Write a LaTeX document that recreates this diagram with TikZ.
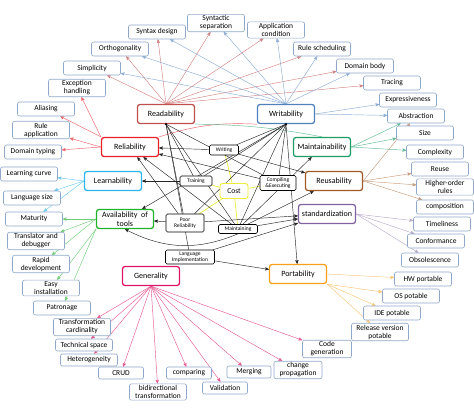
\documentclass[tikz,border=0pt]{standalone}
\usepackage{fontspec}
\setmainfont{Carlito}
\usetikzlibrary{arrows,backgrounds}

\definecolor{leafc}{HTML}{8FA8C9}
\definecolor{readc}{HTML}{C0504D}
\definecolor{writc}{HTML}{4F81BD}
\definecolor{relc}{HTML}{E8202A}
\definecolor{learnc}{HTML}{2CB5E8}
\definecolor{availc}{HTML}{22B22B}
\definecolor{genc}{HTML}{DD1565}
\definecolor{maintc}{HTML}{1E9E66}
\definecolor{reusc}{HTML}{A35A26}
\definecolor{stdc}{HTML}{8064A2}
\definecolor{portc}{HTML}{F7A11A}
\definecolor{costc}{HTML}{EDED3A}

\tikzset{
  leaf/.style={draw=leafc,fill=white,rounded corners=2pt,line width=0.6pt,
    font=\fontsize{7.5}{8}\selectfont,align=center,inner xsep=1pt,inner ysep=1.5pt,
    minimum width=57pt,minimum height=14pt},
  crit/.style={draw=#1,fill=white,rounded corners=2.5pt,line width=1.3pt,
    font=\fontsize{8}{9}\selectfont,align=center,inner sep=1pt,
    minimum width=57pt,minimum height=19pt},
  sub/.style={draw=black,fill=white,rounded corners=1.5pt,line width=0.6pt,
    font=\fontsize{5.5}{6}\selectfont,align=center,inner sep=1pt,minimum height=10pt},
  fan/.style={color=#1,line width=0.45pt,->},
  blk/.style={color=black!85,line width=0.45pt},
  costl/.style={color=costc,line width=0.7pt},
}

\begin{document}
\begin{tikzpicture}[x=1pt,y=-1pt,>=stealth']
  \useasboundingbox (0,0) rectangle (474,413);

  % criteria
  \node[crit=readc]  (readab)   at (166,114) {Readability};
  \node[crit=writc]  (writab)   at (286,114) {Writability};
  \node[crit=relc]   (reliab)   at (130,147) {Reliability};
  \node[crit=learnc] (learn)    at (113,181) {Learnability};
  \node[crit=availc] (avail)    at (125,219) {Availability~~of\\tools};
  \node[crit=genc]   (general)  at (151,276) {Generality};
  \node[crit=maintc] (maint)    at (322,147) {Maintainability};
  \node[crit=reusc]  (reusab)   at (334,181) {Reusability};
  \node[crit=stdc]   (standard) at (327,214) {standardization};
  \node[crit=portc]  (port)     at (298,274) {Portability};
  \node[crit=costc,line width=0.9pt,minimum width=28pt,minimum height=15pt,
        font=\fontsize{7.5}{8}\selectfont] (cost) at (234,191) {Cost};

  % cost items
  \node[sub,minimum width=29pt] (writing)  at (224,150) {Writing};
  \node[sub,minimum width=32pt] (training) at (196,181) {Training};
  \node[sub,minimum width=36pt,minimum height=15pt] (compil) at (278,183) {Compiling\\\&Executing};
  \node[sub,minimum width=39pt,minimum height=9pt]  (maintng) at (238,229) {Maintaining};
  \node[sub,minimum width=38pt,minimum height=18pt] (poor)    at (185,223) {Poor\\Reliability};
  \node[sub,minimum width=49pt,minimum height=14pt] (langimp) at (190,257) {Language\\Implementation};

  % leaves, top and left
  \node[leaf] (synsep)  at (216,23)  {Syntactic\\separation};
  \node[leaf] (syndes)  at (157,32)  {Syntax design};
  \node[leaf] (orth)    at (120,49)  {Orthogonality};
  \node[leaf] (simp)    at (92,68)   {Simplicity};
  \node[leaf] (exch)    at (77,88)   {Exception\\handling};
  \node[leaf] (alias)   at (46,109)  {Aliasing};
  \node[leaf] (ruleapp) at (41,130)  {Rule\\application};
  \node[leaf] (domtyp)  at (33,152)  {Domain typing};
  \node[leaf] (lcurve)  at (29,174)  {Learning curve};
  \node[leaf] (lsize)   at (32,198)  {Language size};
  \node[leaf] (matur)   at (34,219)  {Maturity};
  \node[leaf] (transdeb) at (36,241) {Translator and\\debugger};
  \node[leaf] (rapid)   at (41,264)  {Rapid\\development};
  \node[leaf] (easy)    at (51,288)  {Easy\\installation};
  \node[leaf] (patron)  at (62,308)  {Patronage};

  % leaves, bottom
  \node[leaf] (transcard) at (82,327) {Transformation\\cardinality};
  \node[leaf,minimum height=12pt] (techsp) at (84,345) {Technical space};
  \node[leaf,minimum height=12pt] (hetero) at (89,360) {Heterogeneity};
  \node[leaf,minimum width=45pt,minimum height=12pt] (crud)   at (121,373) {CRUD};
  \node[leaf] (bidir)   at (158,392) {bidirectional\\transformation};
  \node[leaf,minimum width=45pt,minimum height=12pt] (compar) at (189,373) {comparing};
  \node[leaf,minimum width=45pt,minimum height=12pt] (valid)  at (225,388) {Validation};
  \node[leaf,minimum width=44pt,minimum height=12pt] (merg)   at (249,372) {Merging};
  \node[leaf,minimum width=48pt] (chprop)  at (298,370) {change\\propagation};
  \node[leaf,minimum width=49pt] (codegen) at (327,349) {Code\\generation};

  % leaves, right
  \node[leaf] (relver)  at (380,332) {Release version\\potable};
  \node[leaf] (ide)     at (392,313) {IDE potable};
  \node[leaf] (os)      at (411,296) {OS potable};
  \node[leaf] (hw)      at (423,279) {HW portable};
  \node[leaf] (obso)    at (430,260) {Obsolescence};
  \node[leaf] (conf)    at (436,241) {Conformance};
  \node[leaf] (timel)   at (442,224) {Timeliness};
  \node[leaf] (compos)  at (445,207) {composition};
  \node[leaf] (higher)  at (445,187) {Higher-order\\rules};
  \node[leaf] (reuse)   at (440,169) {Reuse};
  \node[leaf] (complex) at (435,152) {Complexity};
  \node[leaf] (size)    at (425,133) {Size};
  \node[leaf] (abstr)   at (416,116) {Abstraction};
  \node[leaf] (expr)    at (408,100) {Expressiveness};
  \node[leaf] (tracing) at (392,83)  {Tracing};
  \node[leaf] (dombody) at (365,66)  {Domain body};
  \node[leaf] (rulesch) at (322,49)  {Rule scheduling};
  \node[leaf] (appcond) at (276,30)  {Application\\condition};

  \begin{scope}[on background layer]
    % fans to the leaves
    \foreach \t in {syndes,orth,simp,synsep,appcond,rulesch,dombody,tracing}
      \draw[fan=readc!70] (readab.north) -- (\t);
    \foreach \t in {synsep,syndes,orth,simp,appcond,rulesch,dombody}
      \draw[fan=writc!65] (writab.north) -- (\t);
    \foreach \t in {expr,abstr}
      \draw[fan=writc!65] (writab.east) -- (\t);
    \foreach \t in {exch,alias}
      \draw[fan=relc!70] (reliab.north west) -- (\t);
    \foreach \t in {ruleapp,domtyp}
      \draw[fan=relc!70] (reliab.west) -- (\t);
    \foreach \t in {lcurve,lsize,matur}
      \draw[fan=learnc!70] (learn.west) -- (\t);
    \foreach \t in {matur,transdeb,rapid}
      \draw[fan=availc!65] (avail.west) -- (\t);
    \foreach \t in {easy,patron}
      \draw[fan=availc!65] (avail.south west) -- (\t);
    \foreach \t in {transcard,techsp,hetero,crud,bidir,compar,valid,merg,chprop,codegen}
      \draw[fan=genc!70] (general.south) -- (\t);
    \foreach \t in {abstr,size,complex}
      \draw[fan=maintc!70] (maint.east) -- (\t);
    \foreach \t in {abstr,reuse,higher,compos}
      \draw[fan=reusc!60] (reusab.east) -- (\t);
    \foreach \t in {timel,conf,obso}
      \draw[fan=stdc!55] (standard.east) -- (\t);
    \draw[fan=portc!60] (port.east) -- (hw);
    \foreach \t in {os,ide,relver}
      \draw[fan=portc!60] (port.south east) -- (\t);

    % links between criteria
    \path[fan=relc!70,-] (reliab.north east) edge[bend left=10] (writab.south west);
    \path[fan=maintc!70,-] (readab.south east) edge[bend left=5] (maint.north);

    % cost
    \path[costl] (cost) edge (writing) (cost) edge (training) (cost) edge (compil)
      (cost) edge (maintng) (cost) edge (poor);

    % relationships
    \path[blk] (readab.south) edge (training) (readab.south) edge (poor)
      (readab.south) edge (maintng) (readab.south) edge (compil)
      (readab.south) edge (langimp);
    \path[blk] (writab.south) edge (writing) (writab.south) edge (training)
      (writab.south) edge (poor) (writab.south) edge (maintng)
      (writab.south) edge (compil);
    \path[blk,->] (writab.south) edge (port) (writab.south) edge (avail);
    \path[blk,->]
      (writing) edge (reliab)
      (writing) edge (reusab)
      (training) edge (learn)
      (poor) edge (reliab)
      (poor) edge (avail)
      (poor) edge (standard)
      (maintng) edge (maint)
      (maintng) edge (reusab)
      (maintng) edge (standard)
      (maintng) edge (reliab)
      (maintng.south) edge[bend left=25] (avail.south)
      (compil) edge (reliab)
      (langimp) edge (port)
      (langimp) edge (standard)
    ;
  \end{scope}
  \fill (readab.south) circle (1.3pt);
  \fill (writab.south) circle (1.3pt);
\end{tikzpicture}
\end{document}
